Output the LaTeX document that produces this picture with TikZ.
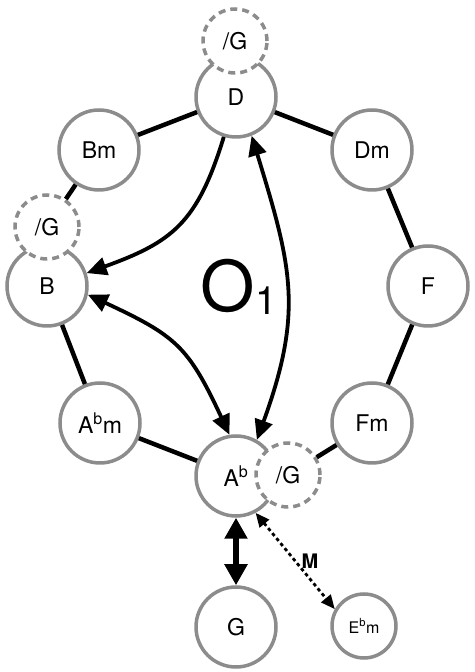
\documentclass[tikz,border=0pt]{standalone}
\usepackage{fontspec}
\setmainfont{TeX Gyre Heros}
\usetikzlibrary{arrows.meta, positioning}

\definecolor{ringgray}{RGB}{140,140,140}

\tikzset{
    chord/.style = {circle, draw = ringgray, line width = 3.5pt, fill = white, minimum size = 80pt, inner sep = 0pt, font = \fontsize{23}{23}\selectfont},
    minor chord/.style = {chord, minimum size = 64pt, font = \fontsize{16}{16}\selectfont},
    slash/.style = {chord, minimum size = 64pt, dash pattern = on 7pt off 5pt},
    link/.style = {line width = 4.5pt},
    move/.style = {line width = 3.8pt, {Triangle[length = 20pt, width = 18pt]}-{Triangle[length = 20pt, width = 18pt]}},
    jump/.style = {line width = 6.5pt, {Triangle[length = 21pt, width = 22pt]}-{Triangle[length = 21pt, width = 22pt]}},
    mediant/.style = {line width = 2.8pt, dash pattern = on 3.5pt off 3pt, {Triangle[length = 14pt, width = 12pt]}-{Triangle[length = 14pt, width = 12pt]}}
}

\begin{document}
\begin{tikzpicture}[x = 1pt, y = 1pt]
    \useasboundingbox (0, 0) rectangle (474, 672);

    % the ring of chords
    \node (D) [chord] at (236, 575) {D};
    \node (gD) [slash] at (235, 631) {/G};
    \node (Bm) [chord] at (99, 522) {Bm};
    \node (Dm) [chord] at (372, 522) {Dm};
    \node (B) [chord] at (47, 386) {B};
    \node (gB) [slash] at (47, 445) {/G};
    \node (F) [chord] at (428, 386) {F};
    \node (Abm) [chord] at (100, 249) {A\textsuperscript{b}m};
    \node (Fm) [chord] at (372, 249) {Fm};
    \node (Ab) [chord] at (236, 196) {A\textsuperscript{b}};
    \node (gAb) [slash] at (288, 197) {/G};

    % outside the ring
    \node (G) [chord] at (236, 45) {G};
    \node (Ebm) [minor chord] at (364, 46) {E\textsuperscript{b}m};

    \foreach \p/\q in {D/Bm, Bm/gB, D/Dm, Dm/F, F/Fm, Fm/gAb, Ab/Abm, Abm/B}
    {
        \draw [link] (\p) -- (\q);
    }

    \node (O1) at (239, 385) {\fontsize{70}{70}\selectfont O\raisebox{-3pt}{\fontsize{39}{39}\selectfont 1}};

    \draw [move, {}-{Triangle[length = 20pt, width = 18pt]}] (D.-107) to [out = -107, in = 20, looseness = 1.2] (B.18);
    \draw [move] (B.-12) to [out = -25, in = 115, looseness = 1.25] (Ab.99);
    \draw [move] (D.-68) to [out = -73, in = 70, looseness = 1.15] (Ab.60);
    \draw [jump] (Ab) -- (G);
    \draw [mediant] (Ab.-62) -- (Ebm.150);

    \node (M) at (310, 111) {\fontsize{20}{20}\selectfont\textbf{M}};
\end{tikzpicture}
\end{document}
